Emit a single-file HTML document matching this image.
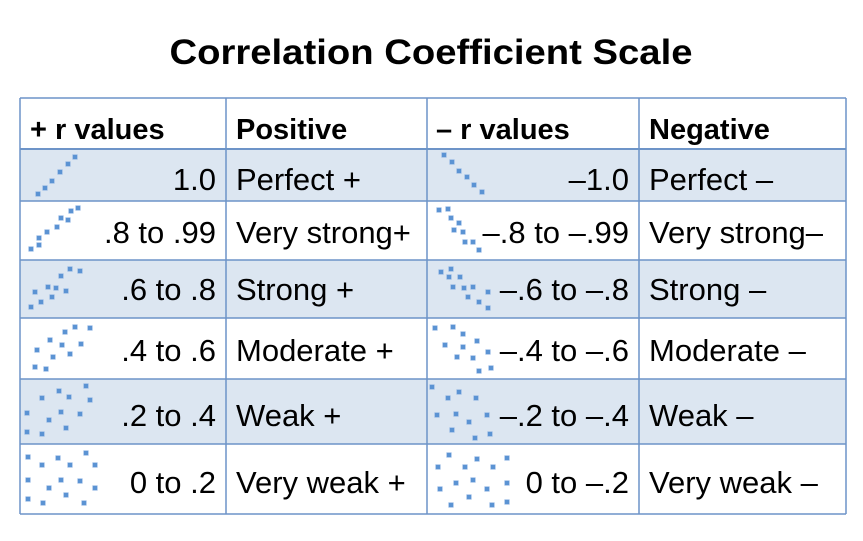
<!DOCTYPE html>
<html><head><meta charset="utf-8"><style>
html,body{margin:0;padding:0;background:#fff;}
svg{display:block;font-family:"Liberation Sans",sans-serif;}
</style></head><body>
<svg id="s" width="863" height="541" viewBox="0 0 863 541" xmlns="http://www.w3.org/2000/svg">
<text x="431" y="64" text-anchor="middle" font-size="35" font-weight="bold" textLength="523" lengthAdjust="spacingAndGlyphs">Correlation Coefficient Scale</text>
<g id="grid"></g>
<g id="dots"></g>
<g id="txt"></g>
</svg>
<script>
const rowsY = [98,149,201,260,318,379,444,514];
const colsX = [20,226,427,639,846];
const shaded = [false,true,false,true,false,true,false];
const baselines = [139,190,243,300,361,426,493];
const col1 = ["+ r values","1.0",".8 to .99",".6 to .8",".4 to .6",".2 to .4","0 to .2"];
const col2 = ["Positive","Perfect +","Very strong+","Strong +","Moderate +","Weak +","Very weak +"];
const col3 = ["– r values","–1.0","–.8 to –.99","–.6 to –.8","–.4 to –.6","–.2 to –.4","0 to –.2"];
const col4 = ["Negative","Perfect –","Very strong–","Strong –","Moderate –","Weak –","Very weak –"];
const dotSets = [
 [[38,194],[45,188],[52,181],[60,172],[68,164],[75,157]],
 [[31,249],[39,245],[39,238],[47,232],[57,227],[61,218],[68,220],[71,211],[78,208]],
 [[31,307],[41,302],[52,297],[35,292],[48,287],[56,288],[66,291],[61,276],[70,269],[80,271]],
 [[35,367],[46,369],[37,350],[53,357],[50,340],[62,345],[70,354],[65,332],[75,327],[81,344],[90,328]],
 [[27,432],[42,434],[27,413],[49,420],[61,412],[66,428],[80,414],[42,398],[59,391],[69,397],[86,386],[90,400]],
 [[28,457],[42,465],[58,458],[70,465],[86,453],[95,465],[28,480],[49,488],[61,480],[80,481],[95,488],[28,499],[43,503],[66,495],[84,503]],
 [[444,155],[452,162],[459,171],[467,177],[474,185],[482,192]],
 [[439,210],[448,209],[451,218],[459,223],[454,230],[463,232],[465,242],[473,242],[479,250]],
 [[441,272],[451,269],[449,277],[460,277],[453,287],[464,288],[473,287],[468,297],[479,302],[488,292],[488,308]],
 [[435,328],[453,327],[463,334],[445,345],[463,347],[477,341],[457,357],[473,358],[488,352],[479,371],[491,368]],
 [[432,387],[448,398],[459,392],[476,398],[437,415],[456,414],[469,422],[487,415],[452,430],[475,438],[490,434]],
 [[449,455],[477,459],[507,458],[438,467],[465,467],[493,467],[440,489],[456,483],[473,480],[487,489],[507,483],[451,505],[469,497],[492,505],[507,502]]
];
const NS="http://www.w3.org/2000/svg";
function mk(tag,attrs,parent){const e=document.createElementNS(NS,tag);for(const k in attrs)e.setAttribute(k,attrs[k]);parent.appendChild(e);return e;}
const grid=document.getElementById('grid'),dots=document.getElementById('dots'),txt=document.getElementById('txt');
for(let r=0;r<7;r++){
  const rect=mk('rect',{x:colsX[0],y:rowsY[r],width:colsX[4]-colsX[0],height:rowsY[r+1]-rowsY[r],fill:shaded[r]?'#dce6f1':'#fff'},grid);
  
  
}
for(let r=0;r<rowsY.length;r++){
  const l=mk('line',{x1:colsX[0],x2:colsX[4],y1:rowsY[r],y2:rowsY[r],stroke:'#6d94c8','stroke-width':r===1?2:1.5},grid);
  
  
}
for(let c=0;c<colsX.length;c++){
  const l=mk('line',{x1:colsX[c],x2:colsX[c],y1:rowsY[0],y2:rowsY[7],stroke:'#6d94c8','stroke-width':1.5},grid);
  
  
}
dotSets.forEach(set=>set.forEach(p=>{
  const d=mk('rect',{x:p[0]-2.3,y:p[1]-2.3,width:4.6,height:4.6,fill:'#5b93d3',stroke:'#8fb5e3','stroke-width':0.6},dots);
  
  
}));
for(let r=0;r<7;r++){
  const bold=r===0;
  const items=[
    [col1[r], bold?30:216, bold?'start':'end','r-value-positive'],
    [col2[r],236,'start','positive-label'],
    [col3[r], bold?436:629, bold?'start':'end','r-value-negative'],
    [col4[r],649,'start','negative-label']
  ];
  items.forEach(it=>{
    const t=mk('text',{x:it[1],y:baselines[r],'text-anchor':it[2],'font-weight':bold?'bold':'normal','font-size':bold?29:31,fill:'#000'},txt);
    t.textContent=it[0];
    
    
  });
}
</script>
</body></html>
